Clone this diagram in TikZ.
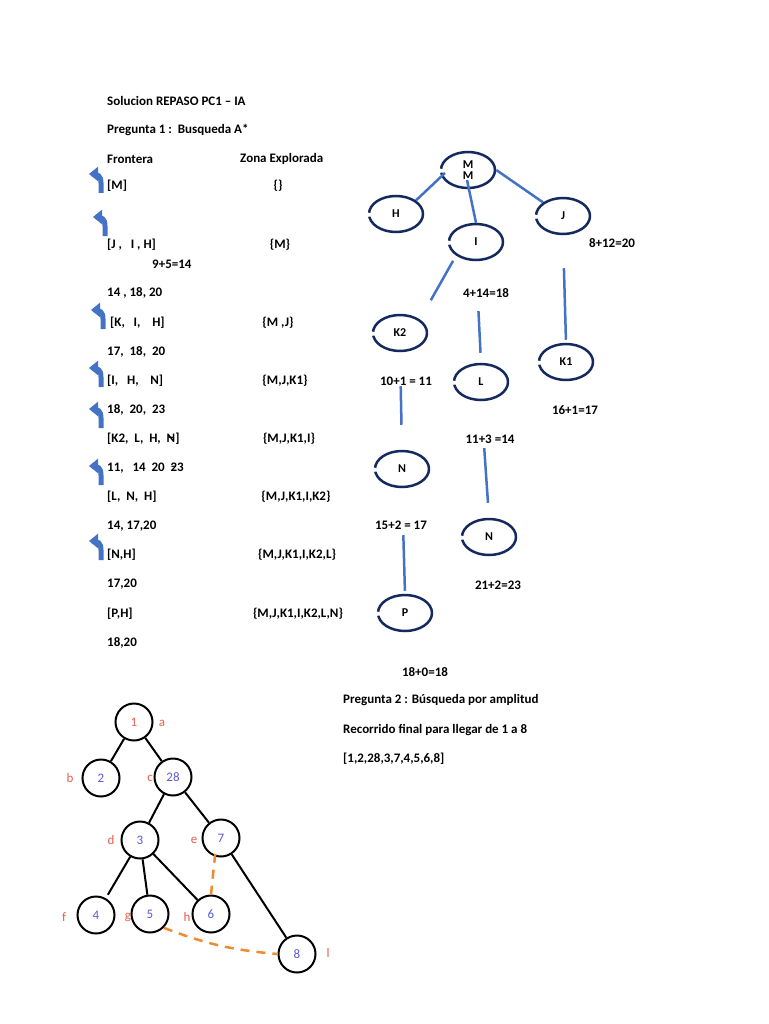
\documentclass[tikz,border=0pt]{standalone}
\usepackage{fontspec}
\setmainfont{Carlito}
\usetikzlibrary{arrows.meta,shapes.geometric}
\definecolor{navy}{HTML}{14295E}
\definecolor{steel}{HTML}{4472C4}
\definecolor{redlab}{HTML}{E8604C}
\definecolor{numblue}{HTML}{5B5BD6}
\definecolor{dashor}{HTML}{F28A30}
\tikzset{
  txt/.style={anchor=west, inner sep=0pt, font=\fontsize{13}{15}\selectfont\bfseries},
  ctxt/.style={inner sep=0pt, font=\fontsize{13}{15}\selectfont\bfseries},
  enode/.style={draw=navy, line width=2.5pt, ellipse, minimum width=54pt, minimum height=36pt, inner sep=0pt, font=\fontsize{12}{13}\selectfont\bfseries, dash pattern=on 70pt off 4pt},
  edge/.style={draw=steel, line width=2.5pt},
  cnode/.style={draw, circle, line width=2pt, minimum size=37pt, inner sep=0pt, text=numblue, font=\fontsize{13}{15}\selectfont},
  tedge/.style={draw, line width=2pt},
  lab/.style={text=redlab, font=\fontsize{13}{15}\selectfont},
  oredge/.style={draw=dashor, line width=2.5pt, dash pattern=on 9pt off 7pt},
  turn/.style={draw=steel, line width=5pt, -{Triangle[width=14pt,length=9pt]}}
}
\newcommand\turnarrow[2]{\draw[turn] (#1,#2) -- (#1,#2-10) .. controls (#1,#2-17) and (#1-3,#2-19) .. (#1-9,#2-19) -- (#1-12,#2-19);}
\newcommand\strk[1]{\ooalign{#1\cr\hidewidth\raisebox{0.15ex}{--}\hidewidth}}
\begin{document}
\begin{tikzpicture}[x=1pt,y=-1pt]
\useasboundingbox[fill=white] (0,0) rectangle (768,1024);

% Titles
\node[txt] (t1) at (107,101) {Solucion REPASO PC1 -- IA};
\node[txt] (t2) at (107,130) {Pregunta 1 :\ \ Busqueda A*};
\node[txt] (front) at (107,159) {Frontera};
\node[txt] (zona) at (240,159) {Zona Explorada};

% Frontera column
\node[txt] (f1) at (107,186) {[M]};
\node[txt] (f2) at (107,245) {[J ,\ \ \ I , H]};
\node[txt] (c2) at (152,264) {9+5=14};
\node[txt] (f3) at (107,293) {14 , 18, 20};
\node[txt] (f4) at (110,323) {[K,\ \ \ I,\ \ \ \ H]};
\node[txt] (f5) at (107,352) {17,\ \ 18,\ \ 20};
\node[txt] (f6) at (107,381) {[I,\ \ \ H,\ \ \ \ N]};
\node[txt] (f7) at (107,410) {18,\ \ 20,\ \ 23};
\node[txt] (f8) at (107,439) {[K2,\ \ L,\ \ H,\ \ \strk{N}]};
\node[txt] (f9) at (107,468) {11,\ \ \ 14\ \ 20\ \ \strk{2}3};
\node[txt] (f10) at (107,497) {[L,\ \ N,\ \ H]};
\node[txt] (f11) at (107,526) {14, 17,20};
\node[txt] (f12) at (107,555) {[N,H]};
\node[txt] (f13) at (107,584) {17,20};
\node[txt] (f14) at (107,614) {[P,H]};
\node[txt] (f15) at (107,643) {18,20};

% Zona Explorada column
\node[ctxt] (z1) at (278,186) {\{\}};
\node[ctxt] (z2) at (280,245) {\{M\}};
\node[ctxt] (z3) at (278,323) {\{M ,J\}};
\node[ctxt] (z4) at (285,381) {\{M,J,K1\}};
\node[ctxt] (z5) at (289,439) {\{M,J,K1,I\}};
\node[ctxt] (z6) at (296,497) {\{M,J,K1,I,K2\}};
\node[ctxt] (z7) at (297,555) {\{M,J,K1,I,K2,L\}};
\node[ctxt] (z8) at (298,614) {\{M,J,K1,I,K2,L,N\}};

% Turn arrows
\turnarrow{101}{193}
\turnarrow{105}{236}
\turnarrow{103}{329}
\turnarrow{101}{387}
\turnarrow{101}{428}
\turnarrow{101}{485}
\turnarrow{101}{560}

% A* tree
\node[enode, align=center] (m) at (468,170) {M\\[-2pt]M};
\node[enode] (h) at (396,214) {H};
\node[enode] (j) at (563,216) {J};
\node[enode] (i) at (476,242) {I};
\node[enode] (k2) at (400,333) {K2};
\node[enode] (l) at (481,382) {L};
\node[enode] (k1) at (566,362) {K1};
\node[enode] (n) at (402,469) {N};
\node[enode] (n2) at (489,537) {N};
\node[enode] (p) at (405,613) {P};

\draw[edge] (445,173) -- (h.north east);
\draw[edge] (467,180) -- (i.north);
\draw[edge] (m.east) -- (j.north west);
\draw[edge, shorten <=6pt, shorten >=22pt] (i.south west) -- (k2.north east);
\draw[edge, shorten <=33pt, shorten >=3pt] (j.south) -- (k1.north);
\draw[edge, shorten <=50pt, shorten >=10pt] (i.south) -- (l.north);
\draw[edge, shorten <=34pt, shorten >=25pt] (k2.south) -- (n.north);
\draw[edge, shorten <=47pt, shorten >=15pt] (l.south) -- (n2.north);
\draw[edge, shorten <=47pt, shorten >=3pt] (n.south) -- (p.north);

\node[ctxt] (g1) at (612,243) {8+12=20};
\node[ctxt] (g2) at (486,293) {4+14=18};
\node[ctxt] (g3) at (406,381) {10+1 = 11};
\node[ctxt] (g4) at (575,410) {16+1=17};
\node[ctxt] (g5) at (490,439) {11+3 =14};
\node[ctxt] (g6) at (401,525) {15+2 = 17};
\node[ctxt] (g7) at (498,585) {21+2=23};
\node[ctxt] (g8) at (425,672) {18+0=18};

% Pregunta 2
\node[txt] (p1) at (343,700) {Pregunta 2 : Búsqueda por amplitud};
\node[txt] (p2) at (343,730) {Recorrido final para llegar de 1 a 8};
\node[txt] (p3) at (343,759) {[1,2,28,3,7,4,5,6,8]};

% BFS tree
\node[cnode, text=redlab] (v1) at (134,722) {1};
\node[cnode] (v2) at (101,778) {2};
\node[cnode] (v28) at (173,777) {28};
\node[cnode] (v3) at (140,840) {3};
\node[cnode] (v7) at (221,838) {7};
\node[cnode] (v4) at (96,915) {4};
\node[cnode] (v5) at (150,914) {5};
\node[cnode] (v6) at (211,914) {6};
\node[cnode] (v8) at (297,954) {8};

\draw[tedge] (v1) -- (v2);
\draw[tedge] (v1) -- (v28);
\draw[tedge] (v28) -- (v3);
\draw[tedge] (v28) -- (v7);
\draw[tedge, shorten >=4pt] (v3) -- (v4);
\draw[tedge] (v3) -- (v5);
\draw[tedge] (v3) -- (v6);
\draw[tedge] (v7) -- (v8);
\draw[oredge] (v7.south west) ++(8,2) -- (v6.north);
\draw[oredge] (v5.south east) to[bend right=8] (v8.west);

\node[lab] (la) at (162,723) {a};
\node[lab] (lb) at (70,778) {b};
\node[lab] (lc) at (150,778) {c};
\node[lab] (ld) at (111,840) {d};
\node[lab] (le) at (194,840) {e};
\node[lab] (lf) at (64,917) {f};
\node[lab] (lg) at (128,917) {g};
\node[lab] (lh) at (187,917) {h};
\node[lab] (ll) at (328,953) {l};
\end{tikzpicture}
\end{document}
